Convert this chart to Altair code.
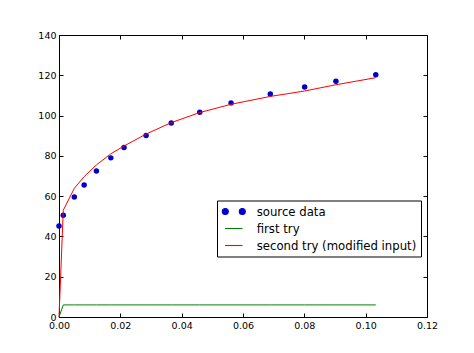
import altair as alt
import pandas as pd

# ---- data ----
x_vals = [0.0000, 0.0014, 0.0050, 0.0082, 0.0122, 0.0169, 0.0212, 0.0284,
          0.0366, 0.0459, 0.0561, 0.0689, 0.0801, 0.0903, 0.1033]
source_y = [45.2, 50.5, 59.6, 65.5, 72.5, 79.0, 84.1, 90.1,
            96.3, 101.6, 106.3, 110.7, 114.2, 117.0, 120.3]
first_try_y = [0.0, 6.0, 6.0, 6.0, 6.0, 6.0, 6.0, 6.0,
               6.0, 6.0, 6.0, 6.0, 6.0, 6.0, 6.0]
second_try_y = [0.0, 53.0, 63.9, 69.7, 75.5, 81.0, 84.9, 90.8,
                96.5, 101.5, 105.6, 109.5, 112.2, 115.3, 118.8]
series_names = ["source data", "first try", "second try (modified input)"]
series_colors = ["#0000cc", "#008000", "#ff0000"]
x_ticks = [0.0, 0.02, 0.04, 0.06, 0.08, 0.10, 0.12]
y_ticks = [0, 20, 40, 60, 80, 100, 120, 140]

rows = []
for name, ys in zip(series_names, [source_y, first_try_y, second_try_y]):
    for xv, yv in zip(x_vals, ys):
        rows.append({"series": name, "x": xv, "y": yv})
df = pd.DataFrame(rows)

FONT = "DejaVu Sans"
xscale = alt.Scale(domain=[0, 0.12], nice=False, zero=False)
yscale = alt.Scale(domain=[0, 140], nice=False, zero=False)
color_scale = alt.Scale(domain=series_names, range=series_colors)

common_axis = dict(domain=False, grid=False, ticks=True, tickSize=4, offset=-4,
                   tickColor="black", tickWidth=1, labelFont=FONT, labelFontSize=9.5,
                   labelColor="black", labelPadding=3, labelFlush=False,
                   labelOverlap=False, title=None)

x_bottom = alt.Axis(orient="bottom", values=x_ticks, format=".2f", **common_axis)
y_left = alt.Axis(orient="left", values=y_ticks, format="d", **common_axis)
x_top = alt.Axis(orient="top", values=x_ticks, labels=False, **common_axis)
y_right = alt.Axis(orient="right", values=y_ticks, labels=False, **common_axis)

# legend glyphs (unit = half of a 12px symbol)
dots_path = ("M-1.917,0a0.5,0.5 0 1,0 1,0a0.5,0.5 0 1,0 -1,0Z"
             "M0.917,0a0.5,0.5 0 1,0 1,0a0.5,0.5 0 1,0 -1,0Z")
line_path = "M-1.451,0L1.451,0"

legend = alt.Legend(
    title=None, orient="none", legendX=158, legendY=165.5,
    labelFont=FONT, labelFontSize=11.7, labelColor="black",
    labelOffset=15.9, symbolOffset=5.8,
    padding=4, rowPadding=3, strokeColor="black", fillColor="white",
    cornerRadius=0, symbolSize=144, symbolStrokeWidth=1.1, symbolOpacity=1,
    symbolType=alt.ExprRef(expr=f"datum.value === 'source data' ? '{dots_path}' : '{line_path}'"),
    symbolFillColor=alt.ExprRef(expr="datum.value === 'source data' ? '#0000cc' : 'transparent'"),
    symbolStrokeColor=alt.ExprRef(expr="datum.value === 'source data' ? 'transparent' : (datum.value === 'first try' ? '#008000' : '#ff2020')"),
)

base = alt.Chart(df)

points = base.transform_filter(alt.datum.series == "source data").mark_point(
    filled=True, size=30, opacity=1, strokeWidth=0
).encode(
    x=alt.X("x:Q", scale=xscale, axis=x_bottom),
    y=alt.Y("y:Q", scale=yscale, axis=y_left),
    color=alt.Color("series:N", scale=color_scale, legend=legend),
)

green = base.transform_filter(alt.datum.series == "first try").mark_line(
    strokeWidth=1
).encode(
    x=alt.X("x:Q", scale=xscale, axis=x_top),
    y=alt.Y("y:Q", scale=yscale, axis=y_right),
    color=alt.Color("series:N", scale=color_scale, legend=None),
)

red = base.transform_filter(alt.datum.series == "second try (modified input)").mark_line(
    strokeWidth=1
).encode(
    x=alt.X("x:Q", scale=xscale, axis=None),
    y=alt.Y("y:Q", scale=yscale, axis=None),
    color=alt.Color("series:N", scale=color_scale, legend=None),
)

chart = alt.layer(points, green, red).resolve_axis(
    x="independent", y="independent"
).properties(
    width=368, height=282,
    autosize=alt.AutoSizeParams(type="none"),
    padding={"left": 59, "top": 35, "right": 47, "bottom": 36},
    background="white",
).configure_view(stroke="black", strokeWidth=1)

chart.save("out.html", embed_options={"renderer": "svg", "actions": False})
